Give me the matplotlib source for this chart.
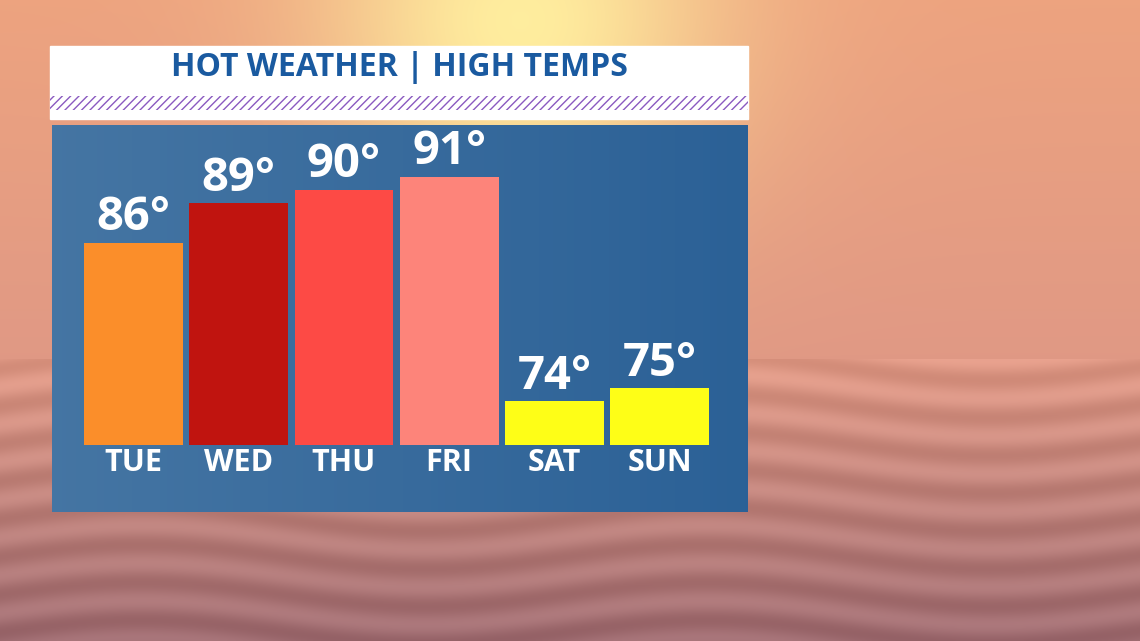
import numpy as np
import matplotlib
matplotlib.use("Agg")
import matplotlib.pyplot as plt
from matplotlib.patches import Rectangle

days = ["TUE", "WED", "THU", "FRI", "SAT", "SUN"]
temps = [86, 89, 90, 91, 74, 75]
colors = ["#fb8e2a", "#c0140f", "#fd4a45", "#fd847a", "#fefe17", "#fefe17"]
title = "HOT WEATHER | HIGH TEMPS"
base = 70.7

W, H = 1140, 641
fig = plt.figure(figsize=(W/100, H/100), dpi=100)

# background
bg = fig.add_axes([0, 0, 1, 1]); bg.set_axis_off()
yy, xx = np.mgrid[0:H, 0:W]
t = yy / H
top = np.array([0.93, 0.64, 0.50]); mid = np.array([0.88, 0.60, 0.52]); bot = np.array([0.62, 0.42, 0.44])
img = np.where(t[..., None] < 0.55,
               top + (mid - top) * (t[..., None] / 0.55),
               mid + (bot - mid) * ((t[..., None] - 0.55) / 0.45))
d = np.sqrt((xx - 520) ** 2 + (yy - 20) ** 2)
glow = np.exp(-(d / 200) ** 2)[..., None]
img = img * (1 - glow) + np.array([1.0, 0.93, 0.62]) * glow
waves = 0.04 * np.sin(yy / 6.0 + np.sin(xx / 90.0) * 2) * (t > 0.56)
img = np.clip(img + waves[..., None], 0, 1)
bg.imshow(img, extent=[0, W, H, 0], aspect="auto")
bg.set_xlim(0, W); bg.set_ylim(H, 0)

# title box
bg.add_patch(Rectangle((50, 46), 698, 73, color="white", zorder=2))
bg.add_patch(Rectangle((50, 96), 698, 14, facecolor="white", edgecolor="#8a5ac0", hatch="////", lw=0, zorder=3))
bg.text(399, 68, title, ha="center", va="center", fontsize=23, fontweight="bold",
        color="#1a5aa0", family="Open Sans", zorder=4)

# panel
ax = fig.add_axes([52/W, 1 - 512/H, 696/W, 387/H])
ax.set_facecolor("#2b6197")
grad = np.linspace(0, 1, 200)[None, :]
x = np.arange(len(days))
ax.set_xlim(-0.775, 5.84); ax.set_ylim(65.6, 94.9)
ax.imshow(np.dstack([0.17 + 0.1*(1-grad), 0.38 + 0.08*(1-grad), 0.59 + 0.05*(1-grad)]),
          extent=[-0.775, 5.84, 65.6, 94.9], aspect="auto", zorder=0)
ax.bar(x, [v - base for v in temps], bottom=base, width=0.94, color=colors, zorder=2)
for i, v in enumerate(temps):
    ax.text(i, v + 0.1, f"{v}°", ha="center", va="bottom", fontsize=34, fontweight="bold",
            color="white", family="Open Sans", zorder=3)
    ax.text(i, 69.3, days[i], ha="center", va="center", fontsize=22, fontweight="bold",
            color="white", family="Open Sans", zorder=3)
ax.set_axis_off()

fig.savefig("out.png", dpi=100)
